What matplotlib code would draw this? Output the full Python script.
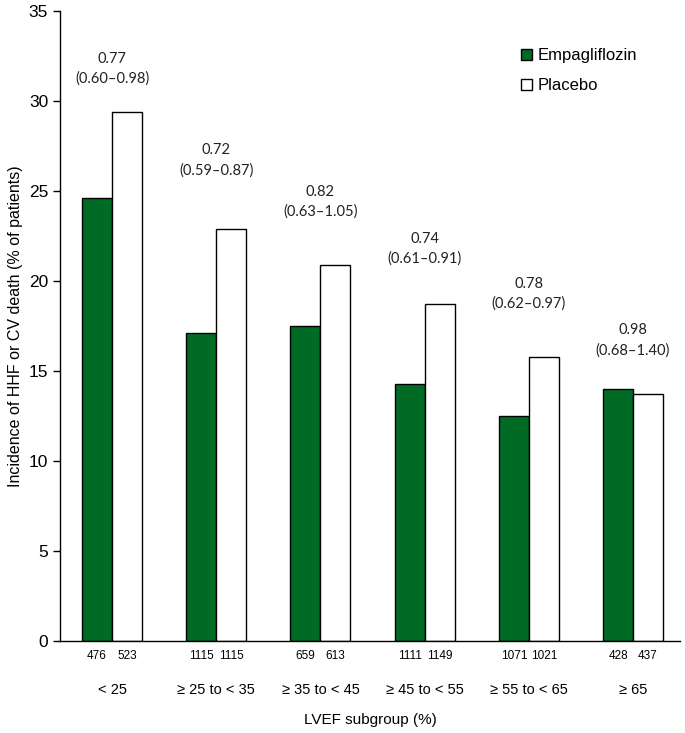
import matplotlib
matplotlib.use("Agg")
import matplotlib.pyplot as plt
import numpy as np

categories = ["< 25", "\u2265 25 to < 35", "\u2265 35 to < 45", "\u2265 45 to < 55", "\u2265 55 to < 65", "\u2265 65"]
empa = [24.6, 17.1, 17.5, 14.3, 12.5, 14.0]
placebo = [29.4, 22.9, 20.9, 18.7, 15.8, 13.7]
n_empa = [476, 1115, 659, 1111, 1071, 428]
n_placebo = [523, 1115, 613, 1149, 1021, 437]
hr = ["0.77", "0.72", "0.82", "0.74", "0.78", "0.98"]
ci = ["(0.60\u20130.98)", "(0.59\u20130.87)", "(0.63\u20131.05)", "(0.61\u20130.91)", "(0.62\u20130.97)", "(0.68\u20131.40)"]
hr_label_y = [31.8, 26.7, 24.4, 21.8, 19.3, 16.7]

plt.rcParams['font.family'] = ['Liberation Sans', 'DejaVu Sans']

fig = plt.figure(figsize=(6.85, 7.33), dpi=100)
ax = fig.add_axes([0.0876, 0.1255, 0.905, 0.8595])

x = np.arange(len(categories))
w = 0.288
green = "#006b25"
ax.bar(x - w/2, empa, w, color=green, edgecolor="black", linewidth=1.0, label="Empagliflozin")
ax.bar(x + w/2, placebo, w, color="white", edgecolor="black", linewidth=1.0, label="Placebo")

ax.set_xlim(-0.5, 5.45)
ax.set_ylim(0, 35)
ax.set_yticks(range(0, 36, 5))
ax.tick_params(axis='y', labelsize=12.5, direction='out', length=5, width=1)
ax.set_xticks([])
for s in ["top", "right"]:
    ax.spines[s].set_visible(False)
ax.spines["left"].set_linewidth(1)
ax.spines["bottom"].set_linewidth(1)

for i in range(len(categories)):
    ax.text(x[i], hr_label_y[i], hr[i] + "\n" + ci[i], ha="center", va="center",
            fontsize=10.5, linespacing=1.5, family=["Lato", "DejaVu Sans"], color="#222222")
    ax.annotate(str(n_empa[i]), (x[i] - w/2, 0), xytext=(0, -11), textcoords="offset points",
                ha="center", va="center", fontsize=8.5)
    ax.annotate(str(n_placebo[i]), (x[i] + w/2, 0), xytext=(0, -11), textcoords="offset points",
                ha="center", va="center", fontsize=8.5)
    ax.annotate(categories[i], (x[i], 0), xytext=(0, -35), textcoords="offset points",
                ha="center", va="center", fontsize=10.5)

ax.text(0.5, -0.125, "LVEF subgroup (%)", transform=ax.transAxes, ha="center", va="center", fontsize=11)
ax.set_ylabel("Incidence of HHF or CV death (% of patients)", fontsize=11.5, labelpad=4)

leg = ax.legend(loc="upper left", bbox_to_anchor=(0.72, 0.965), frameon=False, fontsize=12,
                handlelength=0.65, handleheight=0.65, handletextpad=0.3, labelspacing=0.9)

fig.savefig("out.png", dpi=100)
